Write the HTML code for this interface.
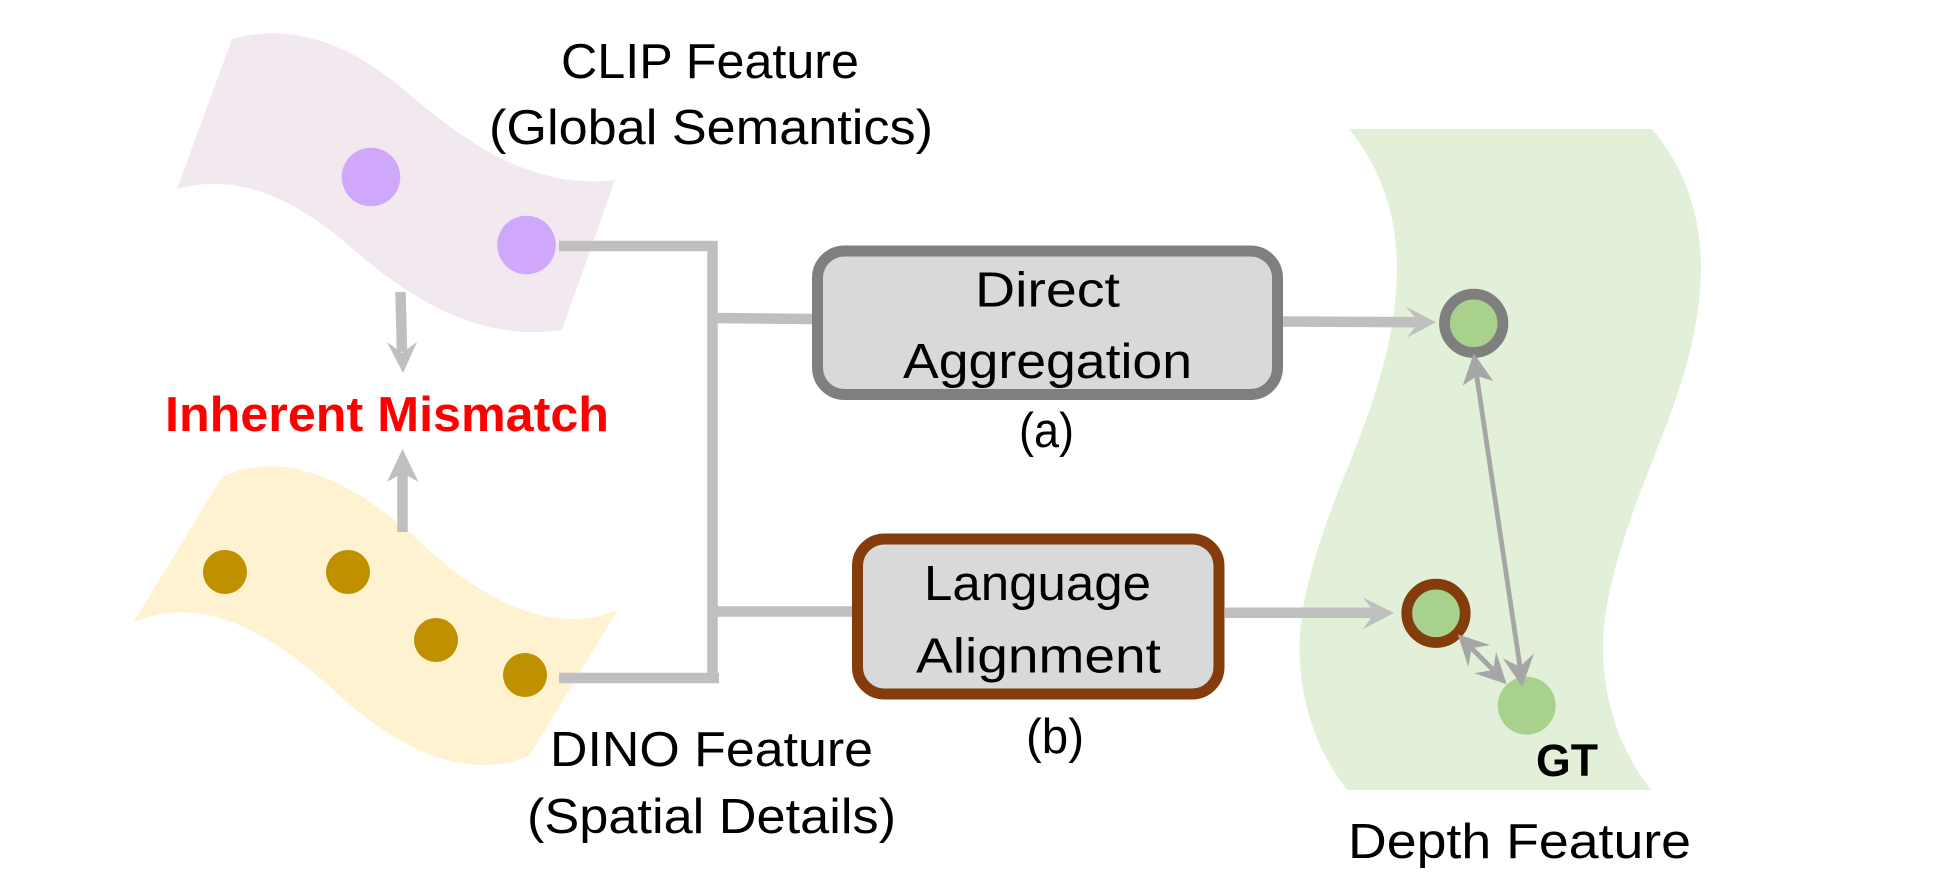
<!DOCTYPE html>
<html lang="en">
<head>
<meta charset="utf-8">
<title>Feature alignment diagram</title>
<style>
html,body{margin:0;padding:0;background:#fff;width:1948px;height:888px;overflow:hidden}
svg{display:block}
text{font-family:"Liberation Sans",sans-serif;fill:#000;font-size:49px}
</style>
</head>
<body>
<svg width="1948" height="888" viewBox="0 0 1948 888" xmlns="http://www.w3.org/2000/svg">
<rect width="1948" height="888" fill="#fff"/>

<!-- ribbons -->
<path d="M232,39 C300,20 360,50 416,100 C470,145 535,190 615,180 L562,330 C482,342 415,301 361,256 C305,206 245,170 177,189 Z" fill="#f2e8f0"/>
<path d="M222,477 C280,450 345,475 416,538 C470,590 545,640 618,610 L529,756 C456,786 381,736 327,684 C256,621 191,596 133,623 Z" fill="#fff2d0"/>
<path d="M1349,129 C1383,170 1397,220 1397,267 C1397,335 1375,400 1350,462 C1322,530 1299.500,595 1299.500,648 C1299.500,703 1318,753 1347,790 L1651,790 C1622,753 1603,703 1603,648 C1603,595 1625,530 1652,462 C1677,400 1701,335 1701,267 C1701,220 1687,170 1652,129 Z" fill="#e2f0d9"/>

<!-- dots -->
<circle cx="371" cy="177" r="29.300" fill="#cfa8fb"/>
<circle cx="526.500" cy="245" r="29.300" fill="#cfa8fb"/>
<circle cx="225" cy="572" r="22" fill="#bf9000"/>
<circle cx="348" cy="572" r="22" fill="#bf9000"/>
<circle cx="436" cy="640" r="22" fill="#bf9000"/>
<circle cx="525" cy="675" r="22" fill="#bf9000"/>

<!-- bus connectors -->
<g fill="none" stroke="#bfbfbf" stroke-width="10.500">
<path d="M559,246 H712.500 V678"/>
<path d="M559,678 H719"/>
<path d="M712,318 L812,319"/>
<path d="M712,611.500 H852"/>
<path d="M1283,321.500 L1420,322.300"/>
<path d="M1225,612.700 H1376"/>
<path d="M400.500,292 L402,352"/>
<path d="M402.500,532 V473"/>
</g>
<g fill="#bfbfbf">
<polygon points="403,373 387,342 402,353 417,342"/>
<polygon points="402.500,449 387,482 402.500,473 418.500,482"/>
<polygon points="1436,322.300 1406,306.700 1419.300,322.300 1406.700,337.700"/>
<polygon points="1394,613 1362.700,597.300 1375,612.700 1362.700,629.300"/>
</g>

<!-- boxes -->
<rect x="817.500" y="251" width="460" height="143.500" rx="27" fill="#d9d9d9" stroke="#7f7f7f" stroke-width="11"/>
<rect x="857.500" y="539" width="361.500" height="155" rx="27" fill="#d9d9d9" stroke="#843c0c" stroke-width="11"/>

<!-- depth nodes -->
<circle cx="1473.700" cy="323.300" r="29.200" fill="#a9d18e" stroke="#7f7f7f" stroke-width="10.800"/>
<circle cx="1436" cy="613.300" r="29.200" fill="#a9d18e" stroke="#843c0c" stroke-width="10.800"/>
<circle cx="1526.700" cy="705.700" r="29" fill="#a9d18e"/>

<!-- double-headed arrows -->
<g stroke="#a6a6a6" stroke-width="4.800" fill="none">
<line x1="1476.700" y1="376" x2="1520" y2="666.700"/>
<line x1="1471.700" y1="648.300" x2="1493.300" y2="670"/>
</g>
<g fill="#a6a6a6">
<polygon points="1473.700,353.300 1462.700,385.700 1476.700,376 1493.300,381"/>
<polygon points="1522.300,686.700 1502.700,658.300 1520,666.700 1534,653.300"/>
<polygon points="1457.700,634.300 1490,645 1471.700,648.300 1468.300,666.700"/>
<polygon points="1506.700,684.300 1496,651.700 1493.300,670 1474,673.300"/>
</g>

<!-- labels -->
<text x="561" y="78" textLength="298" lengthAdjust="spacingAndGlyphs">CLIP Feature</text>
<text x="489" y="144" textLength="444" lengthAdjust="spacingAndGlyphs">(Global Semantics)</text>
<text x="165" y="431" textLength="444" lengthAdjust="spacingAndGlyphs" style="fill:#f00;font-weight:700">Inherent Mismatch</text>
<text x="550" y="766" textLength="323" lengthAdjust="spacingAndGlyphs">DINO Feature</text>
<text x="527" y="833" textLength="369" lengthAdjust="spacingAndGlyphs">(Spatial Details)</text>
<text x="975" y="306.500" textLength="145" lengthAdjust="spacingAndGlyphs">Direct</text>
<text x="903" y="378" textLength="289" lengthAdjust="spacingAndGlyphs">Aggregation</text>
<text x="1019" y="447" textLength="55" lengthAdjust="spacingAndGlyphs">(a)</text>
<text x="1026" y="753" textLength="58" lengthAdjust="spacingAndGlyphs">(b)</text>
<text x="924" y="600" textLength="227" lengthAdjust="spacingAndGlyphs">Language</text>
<text x="916" y="672.500" textLength="245" lengthAdjust="spacingAndGlyphs">Alignment</text>
<text x="1536" y="776" textLength="62" lengthAdjust="spacingAndGlyphs" style="font-weight:700;font-size:45px">GT</text>
<text x="1348" y="858" textLength="343" lengthAdjust="spacingAndGlyphs">Depth Feature</text>
</svg>
</body>
</html>
